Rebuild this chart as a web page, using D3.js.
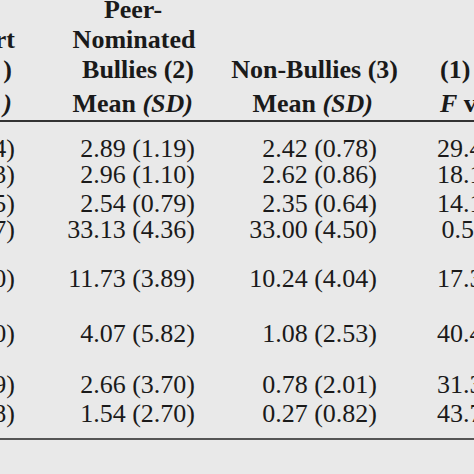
<!DOCTYPE html><html><head><meta charset="utf-8">
<script src="https://cdn.jsdelivr.net/npm/d3@7"></script>
<style>body{margin:0;background:#e9e9e9}</style></head><body><svg id="c" width="474" height="474"></svg>
<script>
const leftFrag=["4)","3)","5)","7)","0)","0)","9)","8)"];
const bullyMean=[2.89,2.96,2.54,33.13,11.73,4.07,2.66,1.54];
const bullySD=[1.19,1.10,0.79,4.36,3.89,5.82,3.70,2.70];
const nonMean=[2.42,2.62,2.35,33.00,10.24,1.08,0.78,0.27];
const nonSD=[0.78,0.86,0.64,4.50,4.04,2.53,2.01,0.82];
const fVals=["29.4","18.1","14.1","0.5","17.3","40.4","31.3","43.7"];
const rowBase=[157,183,212,238,287,342,393,422];
const svg=d3.select("#c");
svg.append("rect").attr("width",474).attr("height",474).attr("fill","#e9e9e9");
const F="'Liberation Serif','DejaVu Serif',serif";
const fs=26;
const t=(x,y,s,a,o={})=>svg.append("text").attr("x",x).attr("y",y).attr("text-anchor",a)
 .attr("font-family",F).attr("font-size",o.fs||fs).attr("font-weight",o.b?"bold":"normal")
 .attr("font-style",o.i?"italic":"normal").attr("fill","#1a1a1a").text(s);
const hs=26;
t(133,18,"Peer-","middle",{b:1,fs:hs});
t(134,48,"Nominated","middle",{b:1,fs:hs});
t(194,78,"Bullies (2)","end",{b:1,fs:hs});
t(398,78,"Non-Bullies (3)","end",{b:1,fs:hs});
t(15,48,"rt","end",{b:1,fs:hs});
t(12,78,")","end",{b:1,fs:hs});
t(12,112,")","end",{b:1,i:1,fs:hs});
t(440,78,"(1)","start",{b:1,fs:hs});
const h1=t(193,112,"","end",{b:1,fs:hs});
h1.append("tspan").text("Mean ");
h1.append("tspan").attr("font-style","italic").text("(SD)");
const h2=t(373,112,"","end",{b:1,fs:hs});
h2.append("tspan").text("Mean ");
h2.append("tspan").attr("font-style","italic").text("(SD)");
const h3=t(440,112,"","start",{b:1,fs:hs});
h3.append("tspan").attr("font-style","italic").text("F");
h3.append("tspan").text(" v");
svg.append("line").attr("x1",0).attr("x2",474).attr("y1",121).attr("y2",121).attr("stroke","#333").attr("stroke-width",2);
svg.append("line").attr("x1",0).attr("x2",474).attr("y1",439).attr("y2",439).attr("stroke","#555").attr("stroke-width",2);
rowBase.forEach((y,i)=>{
 t(15,y,leftFrag[i],"end");
 t(195,y,bullyMean[i].toFixed(2)+" ("+bullySD[i].toFixed(2)+")","end");
 t(377,y,nonMean[i].toFixed(2)+" ("+nonSD[i].toFixed(2)+")","end");
 t(fVals[i].length<4?474:437,y,fVals[i],fVals[i].length<4?"end":"start");
});
</script></body></html>
